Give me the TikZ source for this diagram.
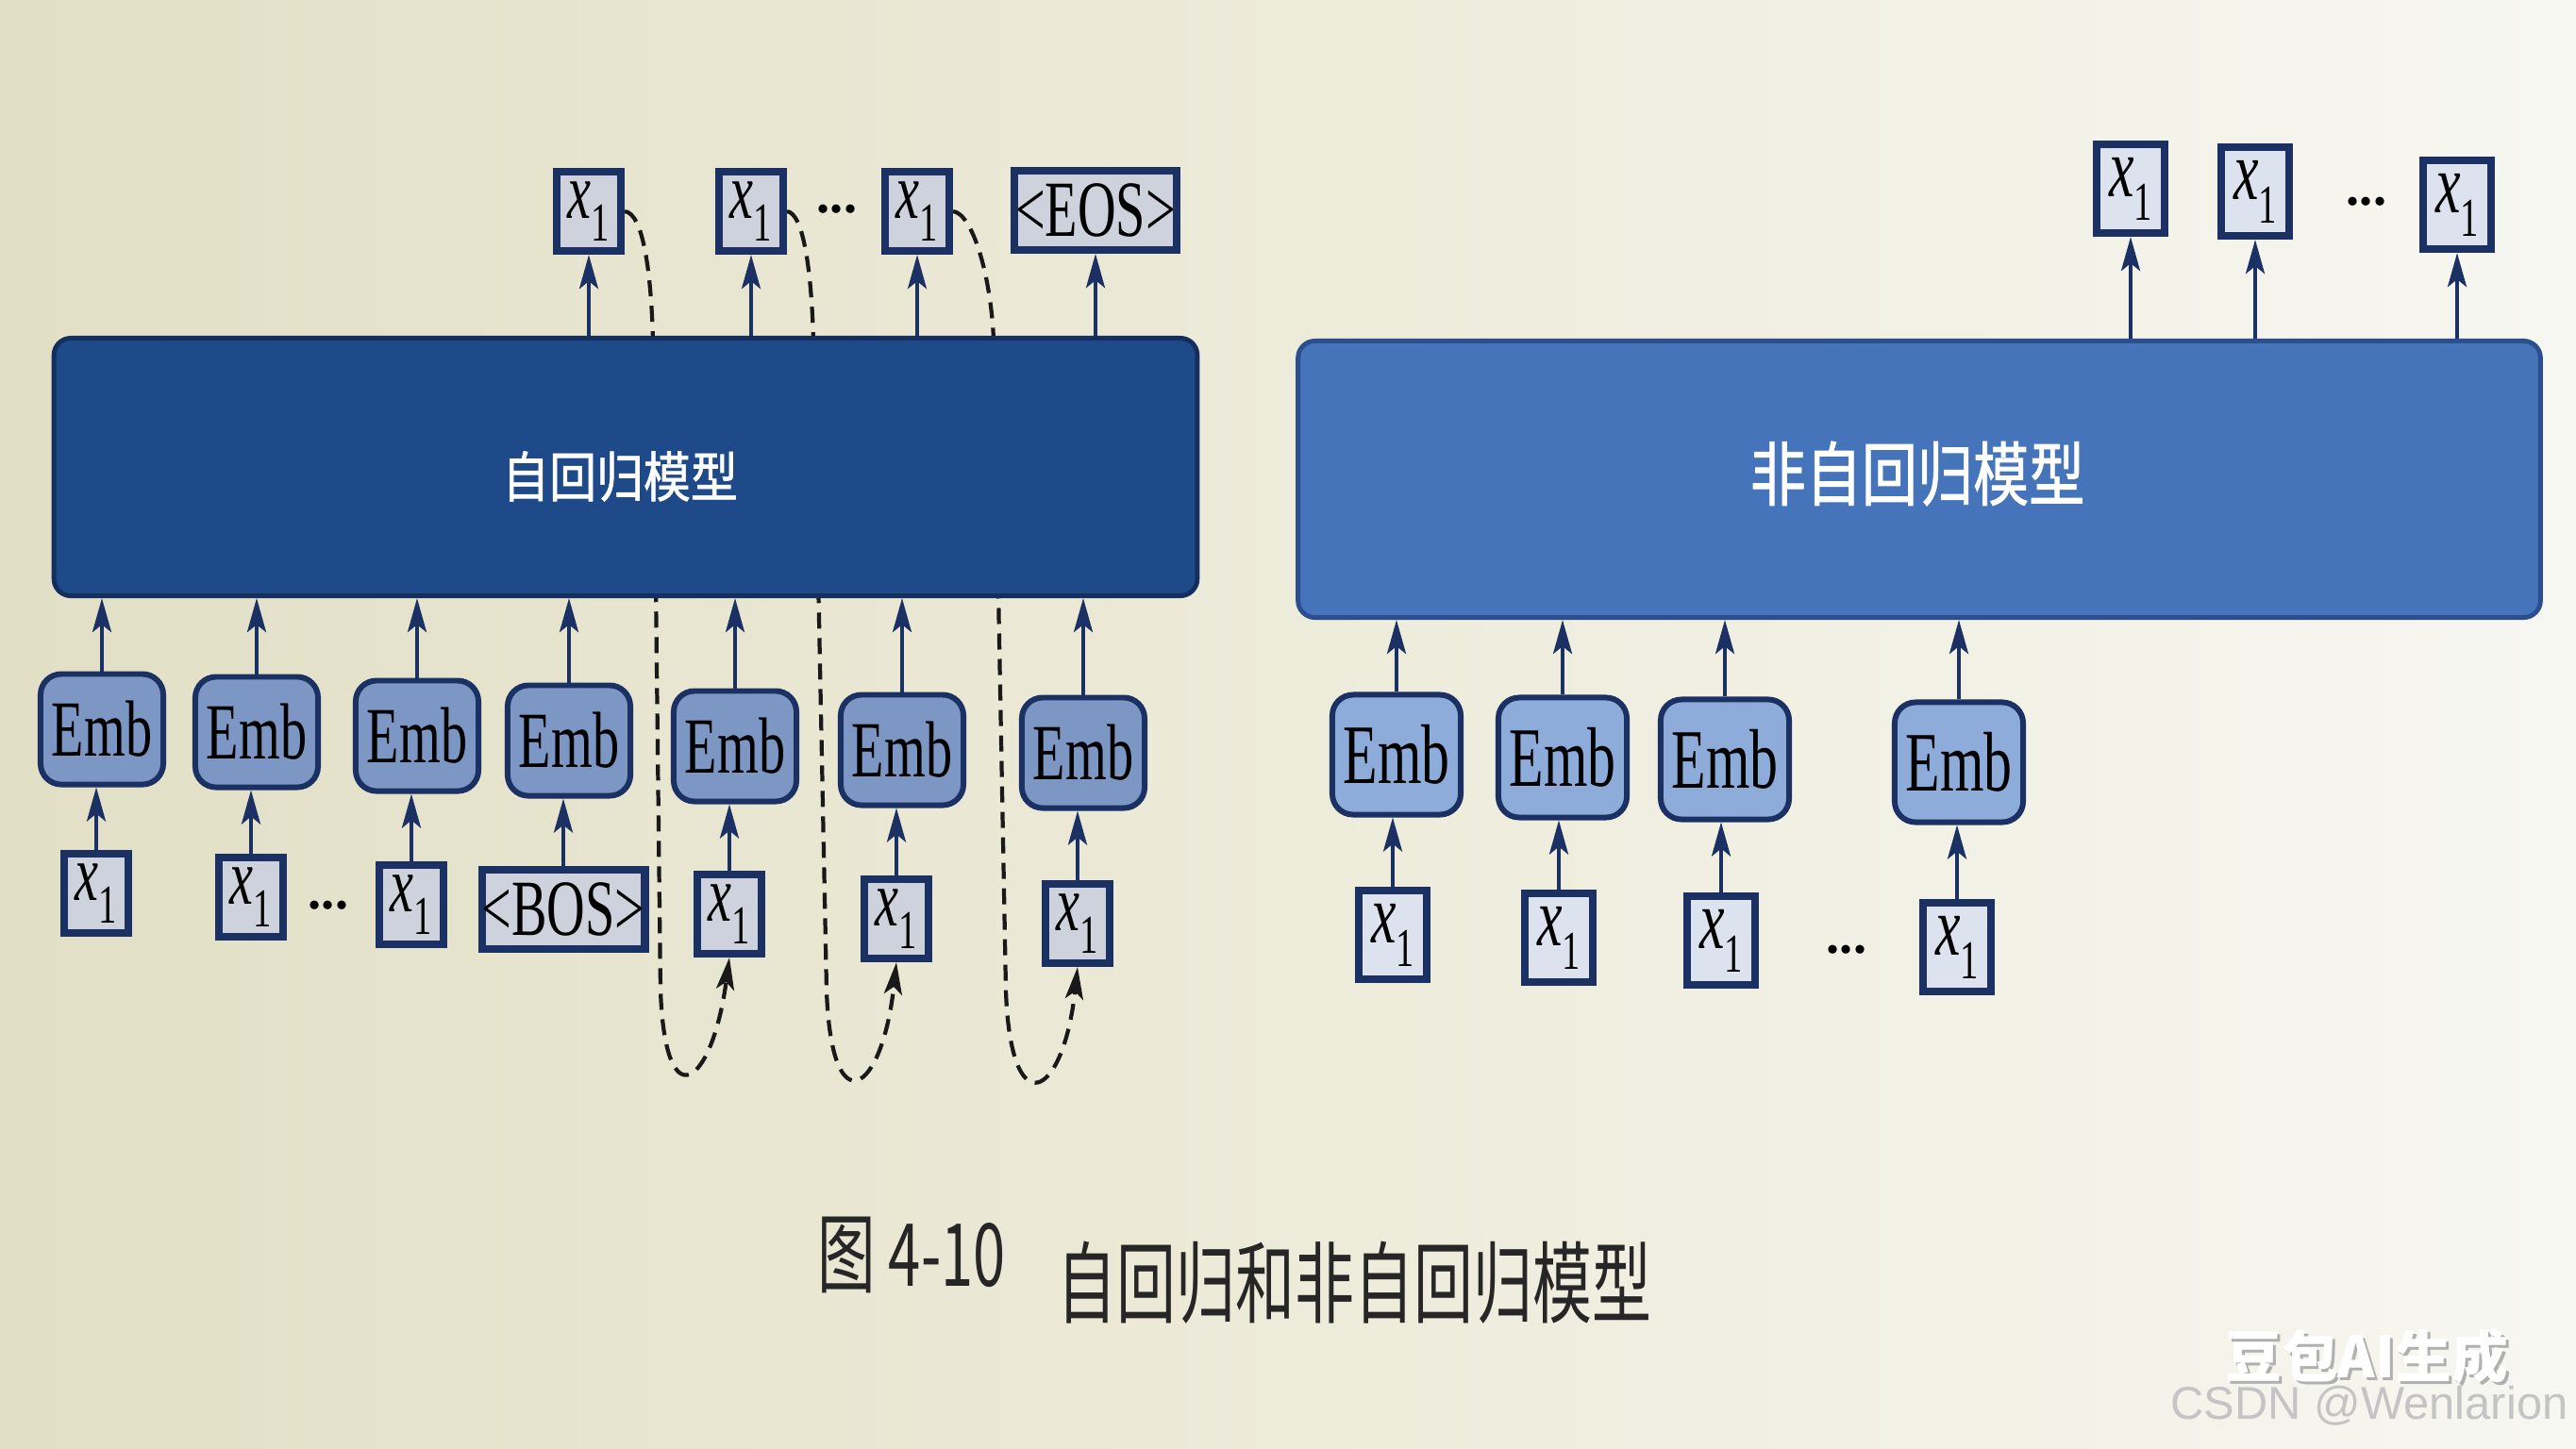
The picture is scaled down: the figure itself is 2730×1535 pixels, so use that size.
\documentclass[tikz,border=0pt]{standalone}
\usepackage{fontspec}
\setmainfont{Liberation Serif}
\newfontfamily\cjk{Noto Sans CJK SC}
\newfontfamily\cjkmed[FakeBold=1.2]{Noto Sans CJK SC}
\newfontfamily\wmsans{Liberation Sans}
\usepackage{graphicx}
\usetikzlibrary{arrows.meta}
\definecolor{navy}{HTML}{1B3163}
\definecolor{bigL}{HTML}{1F4A8A}
\definecolor{bigLb}{HTML}{142F5E}
\definecolor{bigR}{HTML}{4574BA}
\definecolor{bigRb}{HTML}{2A4E8E}
\definecolor{embL}{HTML}{7D97C4}
\definecolor{embR}{HTML}{8EACDA}
\definecolor{tokL}{HTML}{CDD2DC}
\definecolor{tokR}{HTML}{DCE2EE}
\definecolor{paperL}{HTML}{E2DFC6}
\definecolor{paperM}{HTML}{EDEBD9}
\definecolor{paperR}{HTML}{F7F7F2}
\definecolor{wmgray}{HTML}{C4C4C4}
\pgfdeclarelayer{paper}
\pgfdeclarelayer{behind}
\pgfsetlayers{paper,behind,main}
\newcommand{\tallbox}[2]{\scalebox{1}[#1]{#2}}
\newcommand{\xone}{\tallbox{1.5}{\textit{x}\raisebox{-0.28em}{\fontsize{11pt}{11pt}\selectfont 1}}}
\newcommand{\embtxt}{\tallbox{1.5}{Emb}}
\tikzset{
  embboxL/.style={draw=navy, line width=1.7pt, fill=embL, rounded corners=0.22cm,
    minimum width=1.3cm, minimum height=1.17cm, inner sep=0pt,
    font=\fontsize{16pt}{16pt}\selectfont},
  embboxR/.style={embboxL, fill=embR, minimum width=1.36cm, minimum height=1.27cm,
    font=\fontsize{17pt}{17pt}\selectfont},
  tokL/.style={draw=navy, line width=2.3pt, fill=tokL, minimum width=0.68cm,
    minimum height=0.84cm, inner sep=0pt, font=\fontsize{16pt}{16pt}\selectfont},
  tokR/.style={tokL, fill=tokR, minimum width=0.72cm, minimum height=0.94cm,
    font=\fontsize{17pt}{17pt}\selectfont},
  dotsnode/.style={inner sep=0pt, font=\fontsize{16pt}{16pt}\selectfont\bfseries},
  arr/.style={draw=navy, line width=1.15pt, -{Stealth[length=0.36cm, width=0.2cm, inset=0.08cm]}},
  dasharr/.style={draw=black!90, line width=1.2pt, dash pattern=on 0.17cm off 0.1cm,
    -{Stealth[length=0.34cm, width=0.19cm, inset=0.08cm]}},
}
\begin{document}
\begin{tikzpicture}[x=0.01cm, y=-0.01cm]
\useasboundingbox (0,0) rectangle (2730,1535);
\begin{pgfonlayer}{paper}
  \shade[left color=paperL, right color=paperR, middle color=paperM] (0,0) rectangle (2730,1535);
\end{pgfonlayer}

% ---------------- left: autoregressive ----------------
\node[draw=bigLb, line width=1.4pt, fill=bigL, rounded corners=0.18cm,
      minimum width=12.11cm, minimum height=2.73cm] (LB) at (663,495) {};
\node[text=white, font=\cjkmed\fontsize{14.2pt}{14.2pt}\selectfont] (LBt) at (657,505) {\tallbox{1.15}{自回归模型}};

\node[tokL] (Lo1) at (624,224) {\xone};
\node[tokL] (Lo2) at (796,224) {\xone};
\node[tokL] (Lo3) at (972,224) {\xone};
\node[tokL, minimum width=1.72cm] (Leos) at (1161,223) {\tallbox{1.5}{<EOS>}};
\node[dotsnode] (Ldt) at (887,222) {...};

\foreach \n/\x/\y in {1/108/773, 2/272/776, 3/442/780, 4/603/785, 5/779/791, 6/956/795, 7/1148/798}{
  \node[embboxL] (LE\n) at (\x,\y) {\embtxt};
}
\node[tokL] (LI1) at (102,947) {\xone};
\node[tokL] (LI2) at (266,951) {\xone};
\node[tokL] (LI3) at (436,959) {\xone};
\node[tokL, minimum width=1.72cm] (LI4) at (597,964) {\tallbox{1.5}{<BOS>}};
\node[tokL] (LI5) at (773,969) {\xone};
\node[tokL] (LI6) at (950,974) {\xone};
\node[tokL] (LI7) at (1142,979) {\xone};
\node[dotsnode] (Ldb) at (348,960) {...};

\foreach \n in {1,...,7}{
  \draw[arr] (LI\n.north) -- (LI\n.north |- LE\n.south);
  \draw[arr] (LE\n.north) -- (LE\n.north |- LB.south);
}
\foreach \o in {Lo1,Lo2,Lo3,Leos}{
  \draw[arr] (LB.north -| \o.south) -- (\o.south);
}
\begin{pgfonlayer}{behind}
  \draw[dasharr] (Lo1.east) .. controls (682,226) and (690,290) .. (692,360)
     -- (700,1050) .. controls (705,1190) and (755,1150) .. (LI5.south);
  \draw[dasharr] (Lo2.east) .. controls (852,226) and (860,290) .. (862,360)
     -- (876,1050) .. controls (881,1195) and (935,1160) .. (LI6.south);
  \draw[dasharr] (Lo3.east) .. controls (1030,226) and (1050,290) .. (1053,360)
     -- (1066,1050) .. controls (1071,1195) and (1127,1165) .. (LI7.south);
\end{pgfonlayer}

% ---------------- right: non-autoregressive ----------------
\node[draw=bigRb, line width=1.4pt, fill=bigR, rounded corners=0.18cm,
      minimum width=13.16cm, minimum height=2.93cm] (RB) at (2034,508) {};
\node[text=white, font=\cjkmed\fontsize{16.8pt}{16.8pt}\selectfont] (RBt) at (2032,502) {\tallbox{1.25}{非自回归模型}};

\node[tokR] (Ro1) at (2258,200) {\xone};
\node[tokR] (Ro2) at (2390,203) {\xone};
\node[tokR] (Ro3) at (2604,217) {\xone};
\node[dotsnode] (Rdt) at (2508,214) {...};

\foreach \n/\x/\y in {1/1480/800, 2/1656/803, 3/1828/805, 4/2076/808}{
  \node[embboxR] (RE\n) at (\x,\y) {\embtxt};
}
\node[tokR] (RI1) at (1476,991) {\xone};
\node[tokR] (RI2) at (1652,994) {\xone};
\node[tokR] (RI3) at (1824,997) {\xone};
\node[tokR] (RI4) at (2074,1004) {\xone};
\node[dotsnode] (Rdb) at (1957,1007) {...};

\foreach \n in {1,...,4}{
  \draw[arr] (RI\n.north) -- (RI\n.north |- RE\n.south);
  \draw[arr] (RE\n.north) -- (RE\n.north |- RB.south);
}
\foreach \o in {Ro1,Ro2,Ro3}{
  \draw[arr] (RB.north -| \o.south) -- (\o.south);
}

% ---------------- caption ----------------
\node[anchor=west, inner sep=0pt, text=black!85, font=\cjk\fontsize{17.5pt}{17.5pt}\selectfont]
  (cap1) at (866,1330) {\tallbox{1.5}{图 4-10}};
\node[anchor=west, inner sep=0pt, text=black!85, font=\cjk\fontsize{17.9pt}{17.9pt}\selectfont]
  (cap2) at (1120,1360) {\tallbox{1.5}{自回归和非自回归模型}};

% ---------------- watermark ----------------
\node[text=wmgray!90!black, font=\cjk\bfseries\fontsize{17pt}{17pt}\selectfont] (wm1s) at (2511,1441) {豆包AI生成};
\node[text=white, font=\cjk\bfseries\fontsize{17pt}{17pt}\selectfont] (wm1) at (2508,1438) {豆包AI生成};
\node[text=wmgray, font=\wmsans\fontsize{13.9pt}{13.9pt}\selectfont] (wm2) at (2511,1490) {CSDN @Wenlarion};
\end{tikzpicture}
\end{document}
